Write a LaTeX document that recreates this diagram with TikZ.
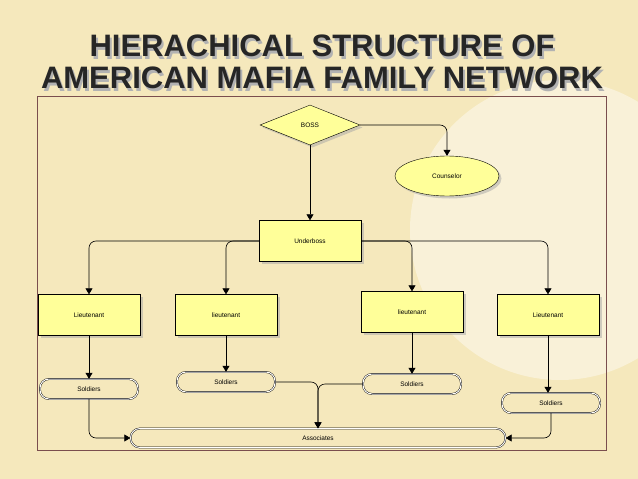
\documentclass[tikz,border=0pt]{standalone}
\usepackage{fontspec}
\setmainfont{Liberation Sans}
\usetikzlibrary{shapes.geometric,shadows,arrows.meta}
\definecolor{bgA}{HTML}{F5E8BC}
\definecolor{bgB}{HTML}{FBF6E4}
\definecolor{fillY}{HTML}{FFFF99}
\definecolor{frameC}{HTML}{7A4E4E}
\tikzset{
  x=1pt,y=-1pt,
  base/.style={draw=black,fill=fillY,font=\fontsize{6.5}{7}\selectfont,inner sep=0pt,
    drop shadow={shadow xshift=2.5pt,shadow yshift=-2.5pt,fill=gray!70}},
  boxn/.style={base,rectangle,minimum width=102pt,minimum height=41pt},
  diam/.style={base,diamond,aspect=2.5,minimum width=100pt,minimum height=40pt},
  ell/.style={base,ellipse,minimum width=104pt,minimum height=40pt},
  sold/.style={draw=black,double=white,double distance=1pt,fill=none,rounded corners=9pt,
    minimum width=98pt,minimum height=20pt,font=\fontsize{6.5}{7}\selectfont},
  conn/.style={draw=black,line width=0.6pt,rounded corners=7pt,-{Triangle[length=6pt,width=7pt]}},
  title/.style={font=\bfseries\fontsize{31}{32}\selectfont,text=black!85,
    preaction={}}
}
\begin{document}
\begin{tikzpicture}
\useasboundingbox (0,0) rectangle (638,479);
\begin{scope}
\clip (0,0) rectangle (638,479);
\fill[bgA] (0,0) rectangle (638,479);
\fill[bgB,opacity=0.7] (560,230) circle (150pt);
\end{scope}
\draw[frameC,line width=0.6pt] (37,96) rectangle (606,450);
\node[title,text=gray!60] at (324,49) {HIERACHICAL STRUCTURE OF};
\node[title,text=gray!60] at (324,81) {AMERICAN MAFIA FAMILY NETWORK};
\node[title] (t1) at (322,46) {HIERACHICAL STRUCTURE OF};
\node[title] (t2) at (322,78) {AMERICAN MAFIA FAMILY NETWORK};

\node[diam] (boss) at (310,125) {BOSS};
\node[ell] (couns) at (447,176) {Counselor};
\node[boxn] (ub) at (310,241) {Underboss};
\node[boxn] (l1) at (89,315) {Lieutenant};
\node[boxn] (l2) at (226,315) {lieutenant};
\node[boxn] (l3) at (412,312) {lieutenant};
\node[boxn] (l4) at (548,315) {Lieutenant};
\node[sold] (s1) at (89,389) {Soldiers};
\node[sold] (s2) at (226,382) {Soldiers};
\node[sold] (s3) at (412,384) {Soldiers};
\node[sold] (s4) at (551,403) {Soldiers};
\node[sold,minimum width=375pt,minimum height=19pt,rounded corners=9.5pt] (as) at (318,438) {Associates};

\draw[conn] (boss.east) -| (couns.north);
\draw[conn] (boss.south) -- (ub.north);
\draw[conn] (ub.west) -| (l1.north);
\draw[conn] (ub.west) -| (l2.north);
\draw[conn] (ub.east) -| (l3.north);
\draw[conn] (ub.east) -| (l4.north);
\draw[conn] (l1.south) -- (s1.north);
\draw[conn] (l2.south) -- (s2.north);
\draw[conn] (l3.south) -- (s3.north);
\draw[conn] (l4.south) -- (l4.south |- s4.north);
\draw[conn] (s1.south) |- (as.west);
\draw[conn] (s4.south) |- (as.east);
\draw[conn] (s2.east) -| (as.north);
\draw[conn] (s3.west) -| (as.north);
\end{tikzpicture}
\end{document}
